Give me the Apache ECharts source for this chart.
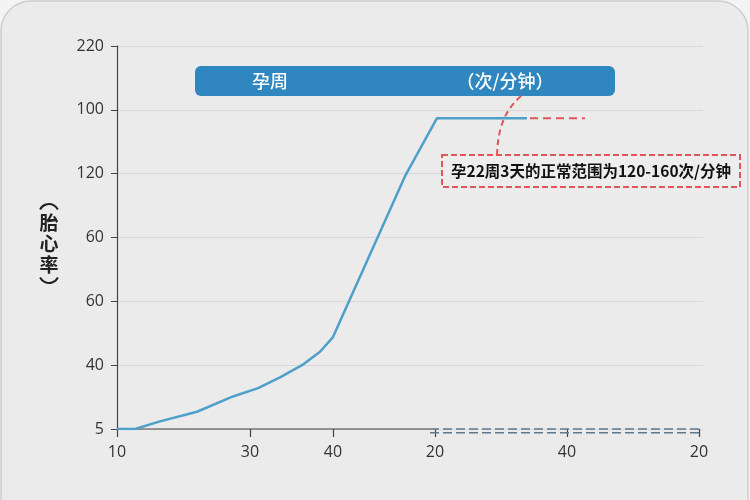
<!DOCTYPE html>
<html>
<head>
<meta charset="utf-8">
<script src="https://cdn.jsdelivr.net/npm/echarts@6/dist/echarts.min.js"></script>
<style>
  html, body { margin: 0; padding: 0; background: #f4f4f4; }
  #chart { width: 750px; height: 500px; }
</style>
</head>
<body>
<div id="chart"></div>
<script>
// tick labels as printed on the picture
const yTickLabels = ['5', '40', '60', '60', '120', '100', '220'];
const xTickValues = [0, 133, 216, 318, 450, 582];
const xTickLabels = ['10', '30', '40', '20', '40', '20'];

// main curve [x, y] in axis units
const curveX = [0, 18, 43, 80, 116, 141, 163, 185, 203, 216, 288, 320, 410];
const curveY = [0, 0, 0.12, 0.27, 0.51, 0.64, 0.81, 1.0, 1.21, 1.44, 3.96, 4.87, 4.87];

// red dashed continuation of the plateau
const plateauX = [413, 468];
const plateauY = [4.87, 4.87];

// baseline pieces
const baseSolidX = [0, 313];
const baseDashX = [313, 582];
const baseDashY1 = [0, 0];
const baseDashY2 = [-0.06, -0.06];

// y axis name, written top to bottom
const yNameChars = ['胎', '心', '率'];

const zip = (xs, ys) => xs.map((x, i) => [x, ys[i]]);

const chart = echarts.init(document.getElementById('chart'));

const font = '"Noto Sans CJK SC", "Noto Sans", sans-serif';

// vertical axis name: brackets drawn as arcs, characters stacked
const yNameGraphics = [
  {
    type: 'arc', z: 11,
    shape: { cx: 49, cy: 214, r: 10, startAngle: Math.PI * 1.15, endAngle: Math.PI * 1.85 },
    style: { stroke: '#222', lineWidth: 2, fill: null }
  },
  {
    type: 'arc', z: 11,
    shape: { cx: 49, cy: 273, r: 10, startAngle: Math.PI * 0.15, endAngle: Math.PI * 0.85 },
    style: { stroke: '#222', lineWidth: 2, fill: null }
  }
];
yNameChars.forEach((c, i) => {
  yNameGraphics.push({
    type: 'text',
    z: 11,
    x: 49, y: 223 + i * 21,
    style: {
      text: c, fill: '#222', font: 'bold 19px ' + font,
      align: 'center', verticalAlign: 'middle'
    }
  });
});

const option = {
  backgroundColor: '#f4f4f4',
  animation: false,
  grid: { left: 117, right: 47, top: 46, bottom: 71 },
  xAxis: {
    type: 'value',
    min: 0,
    max: 586,
    axisLine: { show: false },
    splitLine: { show: false },
    axisTick: {
      show: true,
      length: 8,
      customValues: xTickValues,
      lineStyle: { color: '#444', width: 1.2 }
    },
    axisLabel: {
      customValues: xTickValues,
      margin: 15,
      fontSize: 16,
      color: '#333',
      fontFamily: '"Open Sans", sans-serif',
      formatter: (v) => {
        const i = xTickValues.indexOf(v);
        return i >= 0 ? xTickLabels[i] : '';
      }
    }
  },
  yAxis: {
    type: 'value',
    min: 0,
    max: 6,
    interval: 1,
    axisLine: { show: true, lineStyle: { color: '#444', width: 1.2 } },
    axisTick: { show: true, length: 6, lineStyle: { color: '#444' } },
    splitLine: { show: true, lineStyle: { color: '#d8d8d8', width: 1 } },
    axisLabel: {
      margin: 13,
      fontSize: 16,
      color: '#333',
      fontFamily: '"Open Sans", sans-serif',
      formatter: (v) => yTickLabels[v]
    }
  },
  series: [
    {
      type: 'line',
      data: zip(baseSolidX, [0, 0]),
      symbol: 'none',
      clip: false,
      lineStyle: { color: '#444', width: 1.2 },
      z: 3
    },
    {
      type: 'line',
      data: zip(baseDashX, baseDashY1),
      symbol: 'none',
      clip: false,
      lineStyle: { color: '#5c7890', width: 1.5, type: [9, 4] },
      z: 3
    },
    {
      type: 'line',
      data: zip(baseDashX, baseDashY2),
      symbol: 'none',
      clip: false,
      lineStyle: { color: '#5c7890', width: 1.5, type: [9, 4] },
      z: 3
    },
    {
      type: 'line',
      data: zip(curveX, curveY),
      symbol: 'none',
      lineStyle: { color: '#4f9fcb', width: 2.5 },
      z: 4
    },
    {
      type: 'line',
      data: zip(plateauX, plateauY),
      symbol: 'none',
      lineStyle: { color: '#e0555a', width: 2, type: [8, 5] },
      z: 4
    }
  ],
  graphic: [
    {
      type: 'rect',
      z: -10,
      silent: true,
      shape: { x: 1, y: 1, width: 747, height: 560, r: 30 },
      style: { fill: '#ebebeb', stroke: '#cdcdcd', lineWidth: 1.5 }
    },
    // title band
    {
      type: 'rect',
      z: 10,
      shape: { x: 195, y: 66, width: 420, height: 30, r: 6 },
      style: { fill: '#3087bf' }
    },
    {
      type: 'text',
      z: 11,
      x: 270, y: 81,
      style: {
        text: '孕周', fill: '#fff', font: '500 18px ' + font,
        align: 'center', verticalAlign: 'middle'
      }
    },
    {
      type: 'text',
      z: 11,
      x: 505, y: 81,
      style: {
        text: '（次/分钟）', fill: '#fff', font: '500 18px ' + font,
        align: 'center', verticalAlign: 'middle'
      }
    },
    // callout
    {
      type: 'bezierCurve',
      z: 10,
      shape: { x1: 521, y1: 96, cpx1: 503, cpy1: 112, x2: 497, y2: 155, cpx2: 498, cpy2: 130 },
      style: { stroke: '#e0555a', lineWidth: 2, lineDash: [6, 4], fill: null }
    },
    {
      type: 'rect',
      z: 10,
      shape: { x: 442, y: 155, width: 298, height: 32 },
      style: { fill: '#ededed', stroke: '#e0555a', lineWidth: 2, lineDash: [6, 3] }
    },
    {
      type: 'text',
      z: 11,
      x: 591, y: 171,
      style: {
        text: '孕22周3天的正常范围为120-160次/分钟', fill: '#111',
        font: 'bold 15.5px ' + font, align: 'center', verticalAlign: 'middle'
      }
    }
  ].concat(yNameGraphics)
};

chart.setOption(option);
</script>
</body>
</html>
